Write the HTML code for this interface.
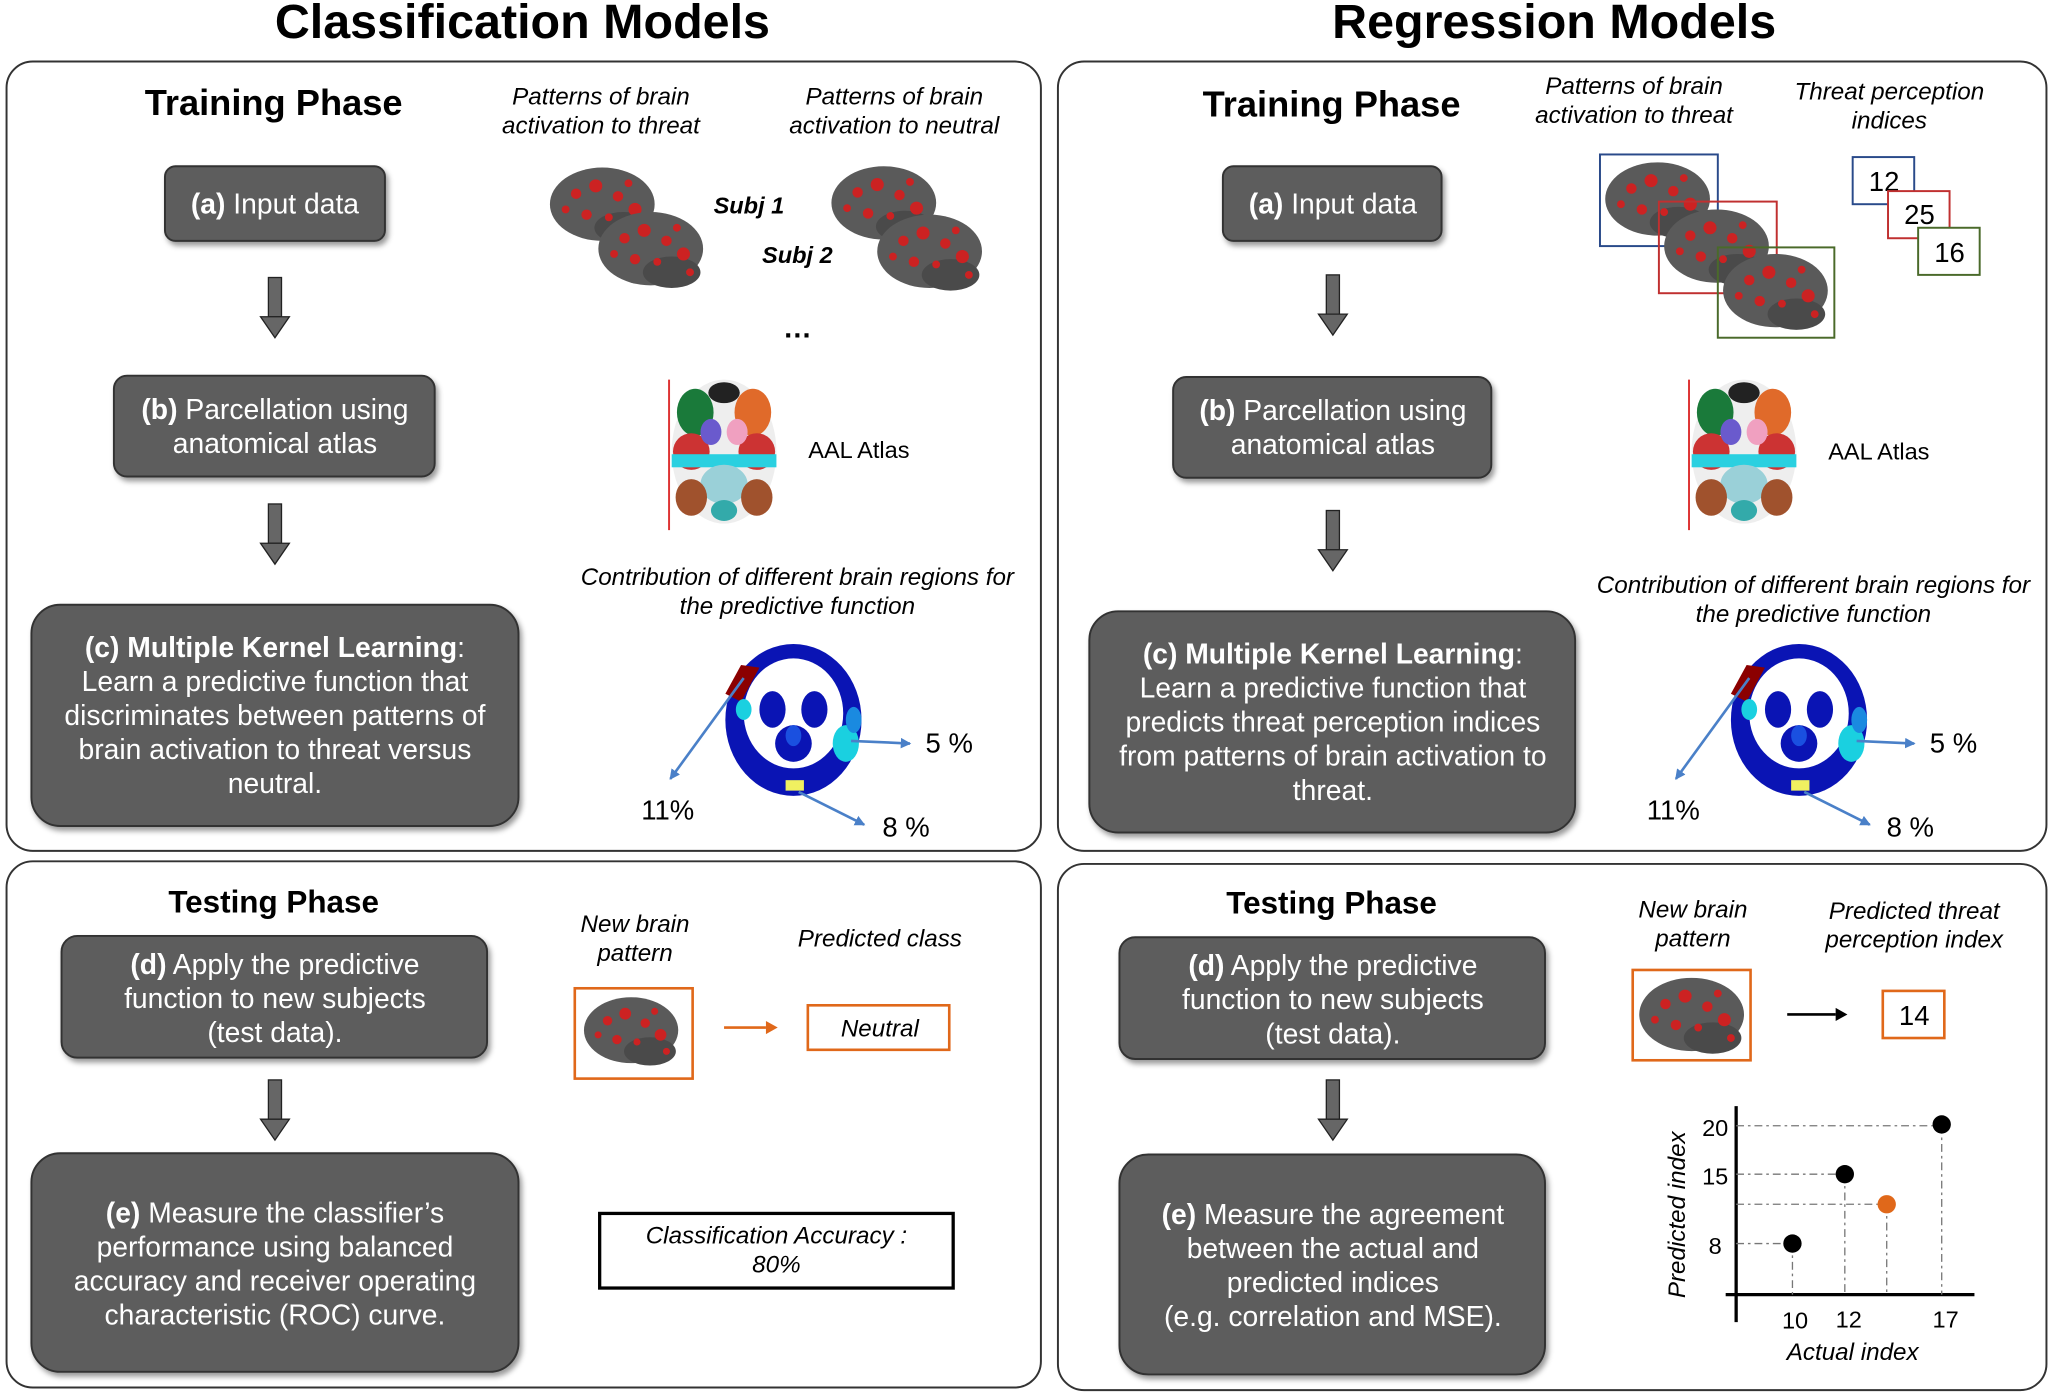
<!DOCTYPE html>
<html><head><meta charset="utf-8"><style>
html,body{margin:0;padding:0;background:#fff;}
svg{display:block;}
text{font-family:"Liberation Sans",sans-serif;}
.bx{fill:#5d5d5d;stroke:#333;stroke-width:1.5;filter:url(#sh);}
.bt{fill:#fff;font-size:21.6px;text-anchor:middle;}
.it{font-style:italic;font-size:18.5px;text-anchor:middle;fill:#000;}
.ph{font-weight:bold;font-size:27.7px;text-anchor:middle;}
.pn{fill:none;stroke:#333;stroke-width:1.5;}
</style></head><body>
<svg width="2053" height="1398" viewBox="0 0 1568 1068" preserveAspectRatio="none" xmlns="http://www.w3.org/2000/svg">
<defs>
<filter id="sh" x="-10%" y="-10%" width="130%" height="130%"><feDropShadow dx="2" dy="3" stdDeviation="2" flood-color="#000" flood-opacity="0.4"/></filter>
<g id="arw"><rect x="-5" y="0" width="10" height="30" fill="#666" stroke="#222"/><polygon points="-11,30 11,30 0,46" fill="#666" stroke="#222"/></g>
<g id="brain">
<ellipse cx="0" cy="0" rx="40" ry="28" fill="#5a5a5a"/>
<ellipse cx="16" cy="18" rx="22" ry="12" fill="#4a4a4a"/>
<circle cx="-20" cy="-8" r="4" fill="#c22"/><circle cx="-5" cy="-14" r="5" fill="#c22"/><circle cx="12" cy="-6" r="4" fill="#c22"/><circle cx="25" cy="4" r="5" fill="#c22"/><circle cx="-12" cy="8" r="4" fill="#c22"/><circle cx="5" cy="10" r="3" fill="#c22"/><circle cx="20" cy="-16" r="3" fill="#c22"/><circle cx="-28" cy="4" r="3" fill="#c22"/><circle cx="30" cy="18" r="3" fill="#c22"/>
</g>
<g id="atlas">
<ellipse cx="0" cy="0" rx="40" ry="55" fill="#eee"/>
<ellipse cx="-22" cy="-30" rx="14" ry="18" fill="#1a7a3a"/><ellipse cx="22" cy="-30" rx="14" ry="18" fill="#e06a2a"/>
<ellipse cx="-25" cy="0" rx="14" ry="14" fill="#c33"/><ellipse cx="25" cy="0" rx="14" ry="14" fill="#c33"/>
<rect x="-40" y="2" width="80" height="10" fill="#2ad0e0"/>
<ellipse cx="-10" cy="-15" rx="8" ry="10" fill="#6a5acd"/><ellipse cx="10" cy="-15" rx="8" ry="10" fill="#f0a0c0"/>
<ellipse cx="0" cy="25" rx="18" ry="15" fill="#9ad0d8"/><ellipse cx="-25" cy="35" rx="12" ry="14" fill="#a0522d"/><ellipse cx="25" cy="35" rx="12" ry="14" fill="#a0522d"/>
<ellipse cx="0" cy="45" rx="10" ry="8" fill="#3aa"/><ellipse cx="0" cy="-45" rx="12" ry="8" fill="#222"/>
<line x1="-42" y1="-55" x2="-42" y2="60" stroke="#d33" stroke-width="1.5"/>
</g>
<g id="contrib">
<ellipse cx="0" cy="0" rx="52" ry="58" fill="#0a14b4"/>
<ellipse cx="0" cy="-5" rx="38" ry="42" fill="#fff"/>
<ellipse cx="-16" cy="-8" rx="10" ry="14" fill="#0a14b4"/><ellipse cx="16" cy="-8" rx="10" ry="14" fill="#0a14b4"/>
<ellipse cx="0" cy="18" rx="14" ry="14" fill="#0a14b4"/><ellipse cx="0" cy="12" rx="6" ry="8" fill="#1a50e0"/>
<polygon points="-52,-20 -40,-42 -26,-40 -40,-14" fill="#8b0000"/>
<ellipse cx="-38" cy="-8" rx="6" ry="8" fill="#1ad0e0"/>
<ellipse cx="40" cy="18" rx="10" ry="14" fill="#1ad0e0"/><ellipse cx="46" cy="0" rx="6" ry="10" fill="#1a8ae0"/>
<rect x="-6" y="46" width="14" height="8" fill="#f0f060"/>
</g>
<marker id="ma" markerWidth="8" markerHeight="8" refX="7" refY="4" orient="auto" markerUnits="userSpaceOnUse"><path d="M0,0 L8,4 L0,8z" fill="#4a80c8"/></marker>
</defs>

<text x="399" y="29" font-size="37" font-weight="bold" text-anchor="middle">Classification Models</text>
<text x="1187" y="29" font-size="37" font-weight="bold" text-anchor="middle">Regression Models</text>

<rect class="pn" x="5" y="47" width="790" height="603" rx="20"/>
<rect class="pn" x="808" y="47" width="755" height="603" rx="20"/>
<rect class="pn" x="5" y="658" width="790" height="402" rx="20"/>
<rect class="pn" x="808" y="660" width="755" height="402" rx="20"/>

<!-- LEFT TRAINING -->
<text class="ph" x="209" y="88">Training Phase</text>
<rect class="bx" x="126" y="127" width="168" height="57" rx="8"/>
<text class="bt" x="210" y="163"><tspan font-weight="bold">(a)</tspan> Input data</text>
<use href="#arw" x="210" y="212"/>
<rect class="bx" x="87" y="287" width="245" height="77" rx="10"/>
<text class="bt" x="210" y="320"><tspan font-weight="bold">(b)</tspan> Parcellation using</text>
<text class="bt" x="210" y="346">anatomical atlas</text>
<use href="#arw" x="210" y="385"/>
<rect class="bx" x="24" y="462" width="372" height="169" rx="22"/>
<text class="bt" x="210" y="502"><tspan font-weight="bold">(c) Multiple Kernel Learning</tspan>:</text>
<text class="bt" x="210" y="528">Learn a predictive function that</text>
<text class="bt" x="210" y="554">discriminates between patterns of</text>
<text class="bt" x="210" y="580">brain activation to threat versus</text>
<text class="bt" x="210" y="606">neutral.</text>

<text class="it" x="459" y="80">Patterns of brain</text><text class="it" x="459" y="102">activation to threat</text>
<text class="it" x="683" y="80">Patterns of brain</text><text class="it" x="683" y="102">activation to neutral</text>
<use href="#brain" x="460" y="156"/><use href="#brain" x="497" y="190"/>
<use href="#brain" x="675" y="155"/><use href="#brain" x="710" y="192"/>
<text x="572" y="163" font-size="18" font-weight="bold" font-style="italic" text-anchor="middle">Subj 1</text>
<text x="609" y="201" font-size="18" font-weight="bold" font-style="italic" text-anchor="middle">Subj 2</text>
<text x="609" y="258" font-size="22" font-weight="bold" text-anchor="middle">…</text>
<use href="#atlas" x="553" y="345"/>
<text x="656" y="350" font-size="18" text-anchor="middle">AAL Atlas</text>
<text class="it" x="609" y="447">Contribution of different brain regions for</text>
<text class="it" x="609" y="469">the predictive function</text>
<use href="#contrib" x="606" y="550"/>
<line x1="568" y1="518" x2="512" y2="595" stroke="#4a80c8" stroke-width="2" marker-end="url(#ma)"/>
<line x1="650" y1="566" x2="695" y2="568" stroke="#4a80c8" stroke-width="2" marker-end="url(#ma)"/>
<line x1="610" y1="605" x2="660" y2="630" stroke="#4a80c8" stroke-width="2" marker-end="url(#ma)"/>
<text x="725" y="575" font-size="21" text-anchor="middle">5 %</text>
<text x="510" y="626" font-size="21" text-anchor="middle">11%</text>
<text x="692" y="639" font-size="21" text-anchor="middle">8 %</text>

<!-- LEFT TESTING -->
<text x="209" y="697" font-size="24" font-weight="bold" text-anchor="middle">Testing Phase</text>
<rect class="bx" x="47" y="715" width="325" height="93" rx="12"/>
<text class="bt" x="210" y="744"><tspan font-weight="bold">(d)</tspan> Apply the predictive</text>
<text class="bt" x="210" y="770">function to new subjects</text>
<text class="bt" x="210" y="796">(test data).</text>
<use href="#arw" x="210" y="825"/>
<rect class="bx" x="24" y="881" width="372" height="167" rx="22"/>
<text class="bt" x="210" y="934"><tspan font-weight="bold">(e)</tspan> Measure the classifier’s</text>
<text class="bt" x="210" y="960">performance using balanced</text>
<text class="bt" x="210" y="986">accuracy and receiver operating</text>
<text class="bt" x="210" y="1012">characteristic (ROC) curve.</text>
<text class="it" x="485" y="712">New brain</text><text class="it" x="485" y="734">pattern</text>
<text class="it" x="672" y="723">Predicted class</text>
<rect x="439" y="755" width="90" height="69" fill="none" stroke="#e0681a" stroke-width="2"/>
<use href="#brain" x="482" y="787" transform="translate(482 787) scale(0.9) translate(-482 -787)"/>
<line x1="553" y1="785" x2="585" y2="785" stroke="#e0681a" stroke-width="2"/><polygon points="585,780 594,785 585,790" fill="#e0681a"/>
<rect x="617" y="768" width="108" height="34" fill="none" stroke="#e0681a" stroke-width="2"/>
<text class="it" x="672" y="792">Neutral</text>
<rect x="458" y="927" width="270" height="57" fill="none" stroke="#000" stroke-width="2.5"/>
<text class="it" x="593" y="950">Classification Accuracy :</text>
<text class="it" x="593" y="972">80%</text>

<!-- RIGHT TRAINING -->
<text class="ph" x="1017" y="89">Training Phase</text>
<rect class="bx" x="934" y="127" width="167" height="57" rx="8"/>
<text class="bt" x="1018" y="163"><tspan font-weight="bold">(a)</tspan> Input data</text>
<use href="#arw" x="1018" y="210"/>
<rect class="bx" x="896" y="288" width="243" height="77" rx="10"/>
<text class="bt" x="1018" y="321"><tspan font-weight="bold">(b)</tspan> Parcellation using</text>
<text class="bt" x="1018" y="347">anatomical atlas</text>
<use href="#arw" x="1018" y="390"/>
<rect class="bx" x="832" y="467" width="371" height="169" rx="22"/>
<text class="bt" x="1018" y="507"><tspan font-weight="bold">(c) Multiple Kernel Learning</tspan>:</text>
<text class="bt" x="1018" y="533">Learn a predictive function that</text>
<text class="bt" x="1018" y="559">predicts threat perception indices</text>
<text class="bt" x="1018" y="585">from patterns of brain activation to</text>
<text class="bt" x="1018" y="611">threat.</text>

<text class="it" x="1248" y="72">Patterns of brain</text><text class="it" x="1248" y="94">activation to threat</text>
<text class="it" x="1443" y="76">Threat perception</text><text class="it" x="1443" y="98">indices</text>
<use href="#brain" x="1266" y="152"/>
<rect x="1222" y="118" width="90" height="70" fill="none" stroke="#2a4a8a" stroke-width="1.5"/>
<use href="#brain" x="1311" y="188"/>
<rect x="1267" y="154" width="90" height="70" fill="none" stroke="#c03030" stroke-width="1.5"/>
<use href="#brain" x="1356" y="222"/>
<rect x="1312" y="189" width="89" height="69" fill="none" stroke="#4a6a2a" stroke-width="1.5"/>
<rect x="1415" y="120" width="47" height="36" fill="#fff" stroke="#2a4a8a" stroke-width="1.5"/>
<text x="1439" y="146" font-size="21" text-anchor="middle">12</text>
<rect x="1442" y="146" width="47" height="36" fill="#fff" stroke="#c03030" stroke-width="1.5"/>
<text x="1466" y="171" font-size="21" text-anchor="middle">25</text>
<rect x="1465" y="174" width="47" height="36" fill="#fff" stroke="#4a6a2a" stroke-width="1.5"/>
<text x="1489" y="200" font-size="21" text-anchor="middle">16</text>
<use href="#atlas" x="1332" y="345"/>
<text x="1435" y="351" font-size="18" text-anchor="middle">AAL Atlas</text>
<text class="it" x="1385" y="453">Contribution of different brain regions for</text>
<text class="it" x="1385" y="475">the predictive function</text>
<use href="#contrib" x="1374" y="550"/>
<line x1="1336" y1="518" x2="1280" y2="595" stroke="#4a80c8" stroke-width="2" marker-end="url(#ma)"/>
<line x1="1418" y1="566" x2="1462" y2="568" stroke="#4a80c8" stroke-width="2" marker-end="url(#ma)"/>
<line x1="1378" y1="605" x2="1428" y2="630" stroke="#4a80c8" stroke-width="2" marker-end="url(#ma)"/>
<text x="1492" y="575" font-size="21" text-anchor="middle">5 %</text>
<text x="1278" y="626" font-size="21" text-anchor="middle">11%</text>
<text x="1459" y="639" font-size="21" text-anchor="middle">8 %</text>

<!-- RIGHT TESTING -->
<text x="1017" y="698" font-size="24" font-weight="bold" text-anchor="middle">Testing Phase</text>
<rect class="bx" x="855" y="716" width="325" height="93" rx="12"/>
<text class="bt" x="1018" y="745"><tspan font-weight="bold">(d)</tspan> Apply the predictive</text>
<text class="bt" x="1018" y="771">function to new subjects</text>
<text class="bt" x="1018" y="797">(test data).</text>
<use href="#arw" x="1018" y="825"/>
<rect class="bx" x="855" y="882" width="325" height="168" rx="22"/>
<text class="bt" x="1018" y="935"><tspan font-weight="bold">(e)</tspan> Measure the agreement</text>
<text class="bt" x="1018" y="961">between the actual and</text>
<text class="bt" x="1018" y="987">predicted indices</text>
<text class="bt" x="1018" y="1013">(e.g. correlation and MSE).</text>
<text class="it" x="1293" y="701">New brain</text><text class="it" x="1293" y="723">pattern</text>
<text class="it" x="1462" y="702">Predicted threat</text><text class="it" x="1462" y="724">perception index</text>
<rect x="1247" y="741" width="90" height="69" fill="none" stroke="#e0681a" stroke-width="2"/>
<use href="#brain" x="1292" y="775"/>
<line x1="1365" y1="775" x2="1402" y2="775" stroke="#000" stroke-width="2"/><polygon points="1402,770 1411,775 1402,780" fill="#000"/>
<rect x="1438" y="757" width="47" height="36" fill="none" stroke="#e0681a" stroke-width="2"/>
<text x="1462" y="783" font-size="21" text-anchor="middle">14</text>
<!-- plot -->
<line x1="1326" y1="845" x2="1326" y2="1010" stroke="#000" stroke-width="2.5"/>
<line x1="1318" y1="989" x2="1508" y2="989" stroke="#000" stroke-width="2.5"/>
<g stroke="#777" stroke-width="1" stroke-dasharray="6,3,2,3" fill="none">
<line x1="1326" y1="860" x2="1483" y2="860"/><line x1="1483" y1="860" x2="1483" y2="989"/>
<line x1="1326" y1="897" x2="1409" y2="897"/><line x1="1409" y1="897" x2="1409" y2="989"/>
<line x1="1326" y1="920" x2="1441" y2="920"/><line x1="1441" y1="920" x2="1441" y2="989"/>
<line x1="1326" y1="950" x2="1369" y2="950"/><line x1="1369" y1="950" x2="1369" y2="989"/>
</g>
<circle cx="1483" cy="859" r="7" fill="#000"/><circle cx="1409" cy="897" r="7" fill="#000"/>
<circle cx="1441" cy="920" r="7" fill="#e0681a"/><circle cx="1369" cy="950" r="7" fill="#000"/>
<text x="1310" y="868" font-size="18" text-anchor="middle">20</text>
<text x="1310" y="905" font-size="18" text-anchor="middle">15</text>
<text x="1310" y="958" font-size="18" text-anchor="middle">8</text>
<text x="1371" y="1015" font-size="18" text-anchor="middle">10</text>
<text x="1412" y="1014" font-size="18" text-anchor="middle">12</text>
<text x="1486" y="1014" font-size="18" text-anchor="middle">17</text>
<text class="it" x="1415" y="1039">Actual index</text>
<text class="it" transform="translate(1287 928) rotate(-90)">Predicted index</text>
</svg>
</body></html>
